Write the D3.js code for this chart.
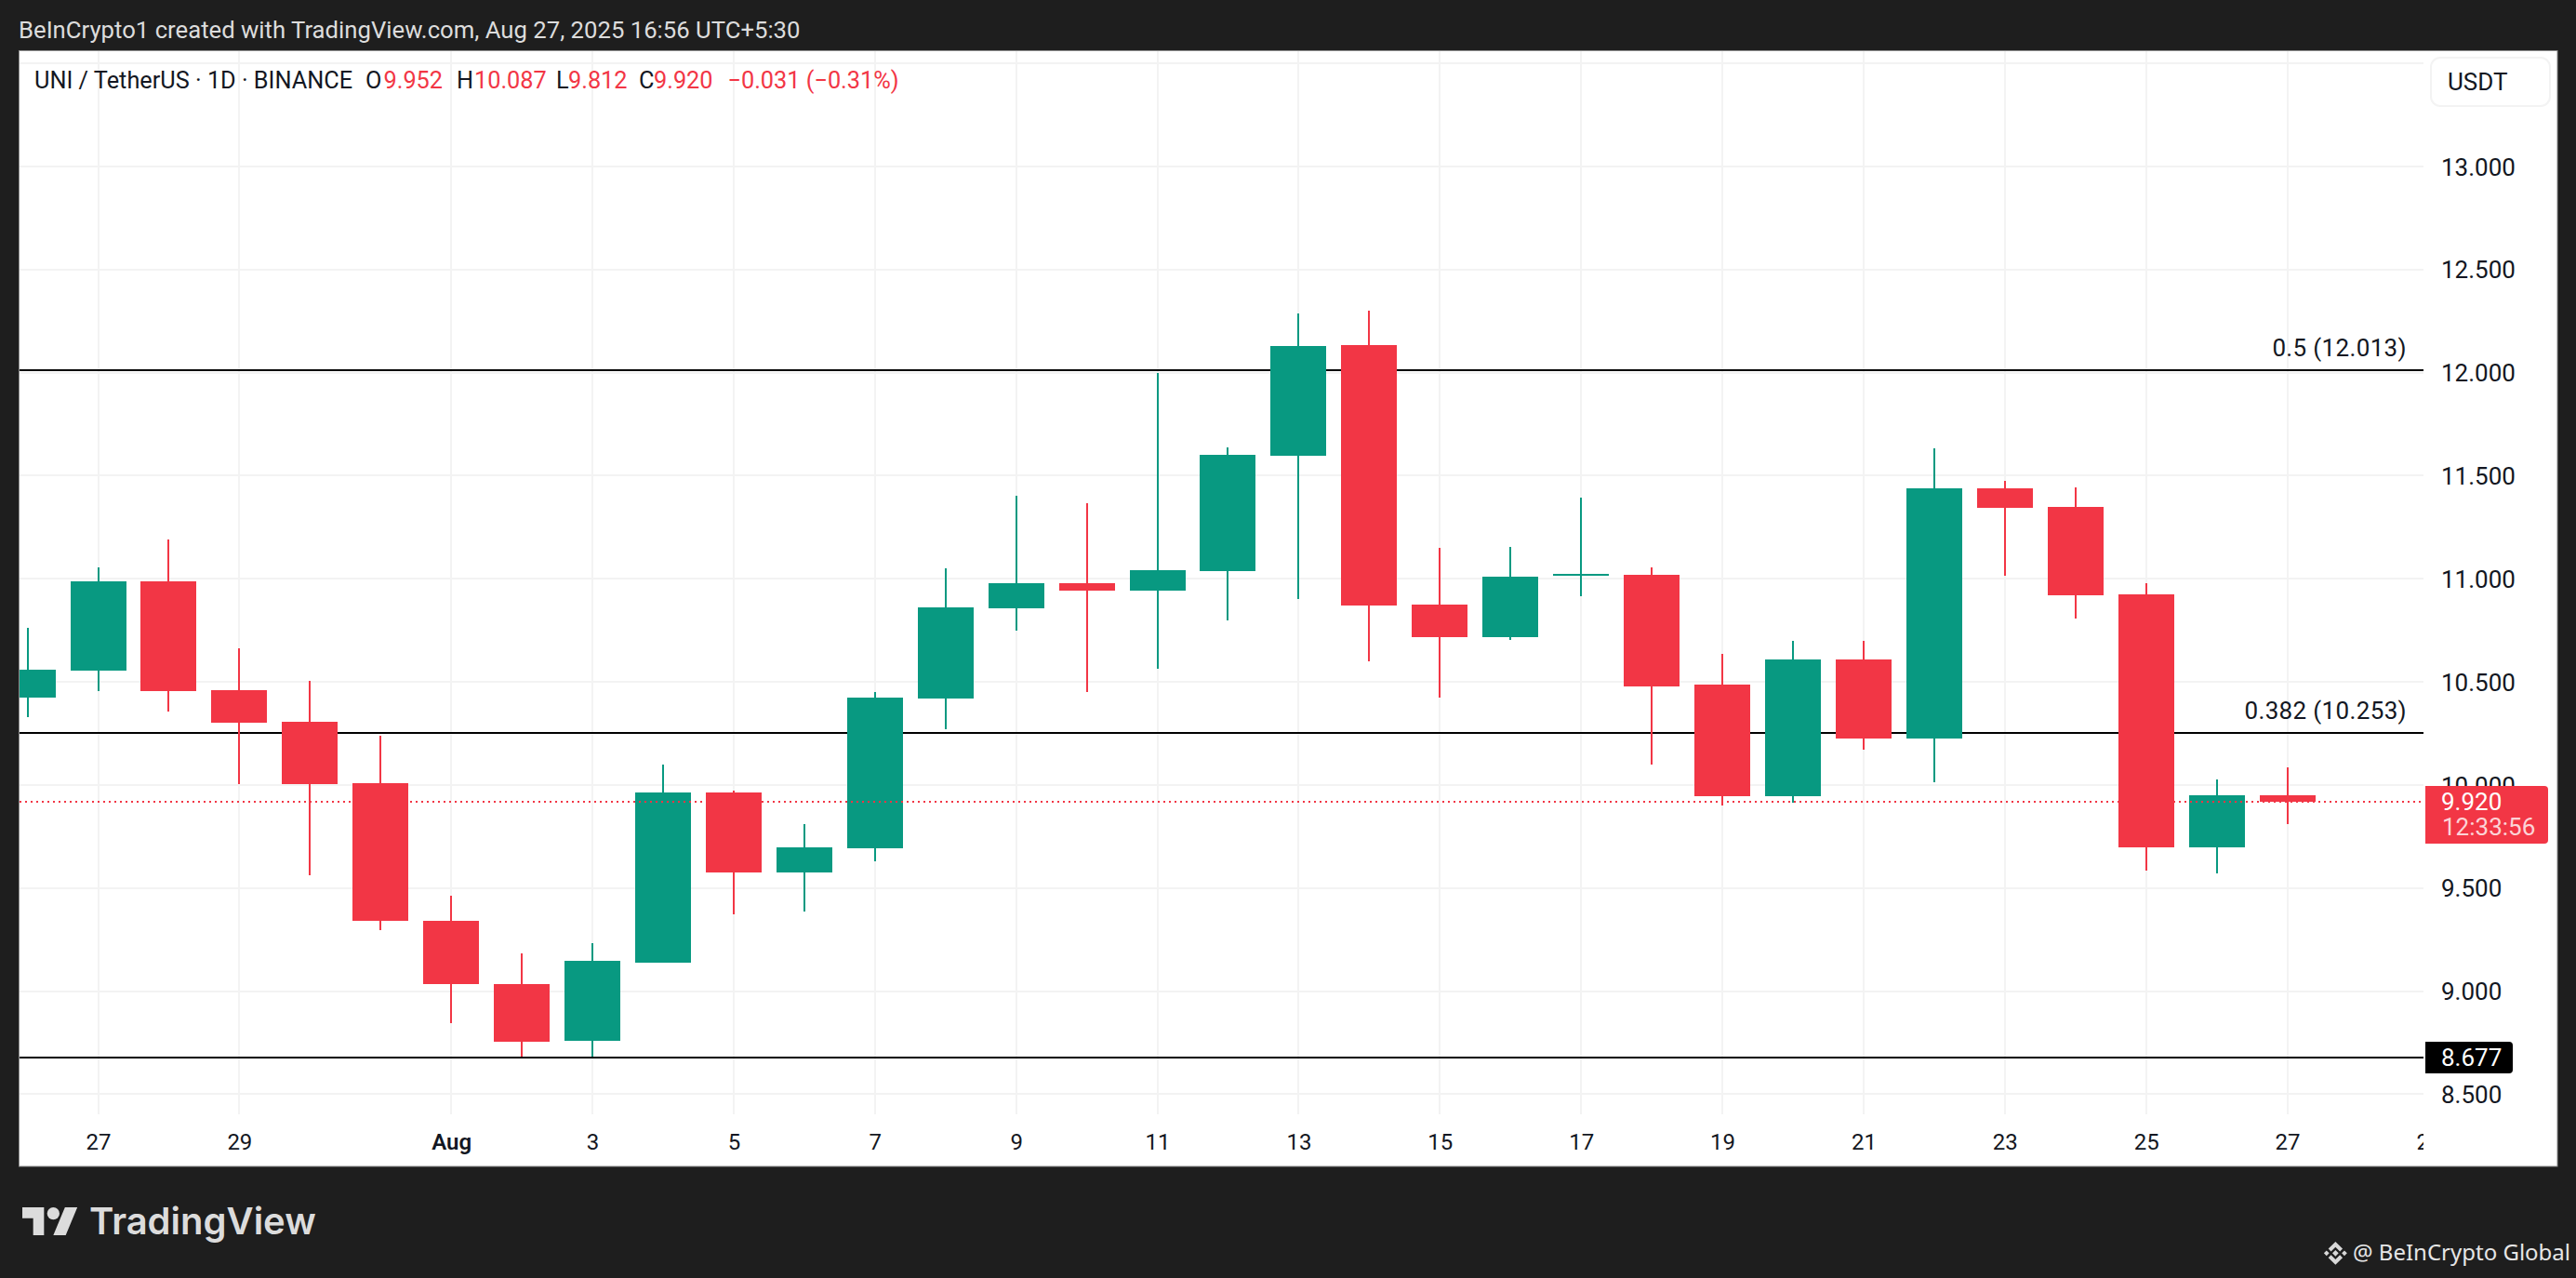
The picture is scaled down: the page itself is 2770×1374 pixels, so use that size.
<!DOCTYPE html>
<html><head><meta charset="utf-8">
<script src="https://cdn.jsdelivr.net/npm/d3@7"></script>
<style>html,body{margin:0;padding:0;background:#1e1e1e;overflow:hidden}svg{display:block;font-family:Roboto,sans-serif}</style>
</head><body><svg id="c" width="2770" height="1374"></svg>
<script>
const dates=["2025-07-26","2025-07-27","2025-07-28","2025-07-29","2025-07-30","2025-07-31","2025-08-01","2025-08-02","2025-08-03","2025-08-04","2025-08-05","2025-08-06","2025-08-07","2025-08-08","2025-08-09","2025-08-10","2025-08-11","2025-08-12","2025-08-13","2025-08-14","2025-08-15","2025-08-16","2025-08-17","2025-08-18","2025-08-19","2025-08-20","2025-08-21","2025-08-22","2025-08-23","2025-08-24","2025-08-25","2025-08-26","2025-08-27"];
const opens=[10.422,10.553,10.987,10.458,10.306,10.007,9.339,9.036,8.757,9.140,9.962,9.574,9.692,10.418,10.856,10.978,10.942,11.037,11.596,12.133,10.874,10.716,11.014,11.018,10.486,9.944,10.608,10.224,11.438,11.348,10.924,9.696,9.952];
const highs=[10.760,11.054,11.190,10.662,10.505,10.237,9.465,9.182,9.232,10.097,9.971,9.809,10.450,11.050,11.402,11.366,11.998,11.637,12.287,12.300,11.149,11.154,11.393,11.055,10.635,10.698,10.698,11.632,11.474,11.443,10.978,10.025,10.087];
const lows=[10.328,10.455,10.354,10.002,9.560,9.294,8.843,8.684,8.681,9.137,9.372,9.384,9.628,10.269,10.748,10.450,10.563,10.797,10.901,10.599,10.423,10.703,10.915,10.098,9.899,9.914,10.170,10.012,11.014,10.806,9.583,9.570,9.812];
const closes=[10.558,10.987,10.455,10.301,10.002,9.339,9.033,8.753,9.145,9.962,9.574,9.696,10.423,10.861,10.978,10.942,11.041,11.601,12.129,10.870,10.716,11.010,11.023,10.477,9.944,10.608,10.224,11.438,11.343,10.919,9.696,9.949,9.920];
const priceTicks=[8.5,9,9.5,10,10.5,11,11.5,12,12.5,13,13.5];
const dateTicks=["2025-07-27","2025-07-29","2025-08-01","2025-08-03","2025-08-05","2025-08-07","2025-08-09","2025-08-11","2025-08-13","2025-08-15","2025-08-17","2025-08-19","2025-08-21","2025-08-23","2025-08-25","2025-08-27","2025-08-29"];
const fibValues=[12.013,10.253,8.677];
const fibLabels=["0.5 (12.013)","0.382 (10.253)",""];
const lastPrice=9.920;

const parse=d3.utcParse("%Y-%m-%d");
const GREEN="#089981",RED="#f23645",GRID="#f3f3f3",INK="#131722";
const L=20.5,R=2606,T=54.5,B=1198;
const x=d3.scaleUtc().domain([parse("2025-07-27"),parse("2025-08-27")]).range([105.5,2459.5]);
const y=d3.scaleLinear().domain([8.5,13]).range([1176.4,179]);
const svg=d3.select("#c");
svg.append("rect").attr("width",2770).attr("height",1374).attr("fill","#1e1e1e");
svg.append("rect").attr("x",L).attr("y",T).attr("width",2750-L).attr("height",1254-T).attr("fill","#fff").attr("stroke","#8c8c8c").attr("stroke-width",1);
const defs=svg.append("defs");
defs.append("clipPath").attr("id","plot").append("rect").attr("x",21).attr("y",55).attr("width",R-21).attr("height",B-55);
defs.append("clipPath").attr("id","xclip").append("rect").attr("x",21).attr("y",B).attr("width",R-21).attr("height",55);
const plot=svg.append("g").attr("clip-path","url(#plot)");
const crisp=s=>s.attr("shape-rendering","crispEdges");

// grid
crisp(plot.append("g").selectAll("line").data(dateTicks).join("line")
  .attr("x1",d=>x(parse(d))).attr("x2",d=>x(parse(d))).attr("y1",T).attr("y2",B)
  .attr("stroke",GRID).attr("stroke-width",2));
crisp(plot.append("g").selectAll("line").data(priceTicks).join("line")
  .attr("x1",L).attr("x2",R).attr("y1",d=>y(d)).attr("y2",d=>y(d))
  .attr("stroke",GRID).attr("stroke-width",2));

// fibonacci levels
crisp(plot.append("g").selectAll("line").data(fibValues).join("line")
  .attr("x1",L).attr("x2",R).attr("y1",d=>y(d)).attr("y2",d=>y(d))
  .attr("stroke","#000").attr("stroke-width",2));

// candles
const bars=dates.map((d,i)=>({t:parse(d),o:opens[i],h:highs[i],l:lows[i],c:closes[i]}));
const col=d=>d.c>=d.o?GREEN:RED;
const bw=60;
crisp(plot.append("g").selectAll("line").data(bars).join("line")
  .attr("x1",d=>x(d.t)).attr("x2",d=>x(d.t)).attr("y1",d=>y(d.h)).attr("y2",d=>y(d.l))
  .attr("stroke",col).attr("stroke-width",2));
crisp(plot.append("g").selectAll("rect").data(bars).join("rect")
  .attr("x",d=>x(d.t)-bw/2).attr("width",bw)
  .attr("y",d=>y(Math.max(d.o,d.c))).attr("height",d=>Math.abs(y(d.o)-y(d.c)))
  .attr("fill",col));

// last price line
crisp(plot.append("line").attr("x1",L).attr("x2",R-3).attr("y1",y(lastPrice)).attr("y2",y(lastPrice))
  .attr("stroke",RED).attr("stroke-width",2).attr("stroke-dasharray","2 4"));

// fib labels
svg.append("g").selectAll("text").data(fibValues.filter((d,i)=>fibLabels[i])).join("text")
  .attr("x",2588).attr("y",d=>y(d)-24).attr("dy","0.35em").attr("text-anchor","end")
  .attr("font-size",26).attr("letter-spacing",0.35).attr("fill",INK).text((d,i)=>fibLabels[i]);

// axes
const yAxis=d3.axisRight(y).tickValues(priceTicks.filter(d=>d<=13)).tickSize(0).tickPadding(19).tickFormat(d3.format(".3f"));
const ga=svg.append("g").attr("transform",`translate(${R},0)`).call(yAxis);
ga.select(".domain").remove();
ga.selectAll("text").attr("font-size",26).attr("fill",INK).style("font-family","Roboto,sans-serif").attr("dy","0.35em");
const xAxis=d3.axisBottom(x).tickValues(dateTicks.map(parse)).tickSize(0).tickPadding(0)
  .tickFormat(d=>d.getUTCDate()===1?"Aug":String(d.getUTCDate()));
const gx=svg.append("g").attr("clip-path","url(#xclip)").append("g").attr("transform","translate(0,1228)").call(xAxis);
gx.select(".domain").remove();
gx.selectAll("text").attr("y",0).attr("dy","0.35em").attr("font-size",24).attr("fill",INK).style("font-family","Roboto,sans-serif")
  .attr("font-weight",d=>d.getUTCDate()===1?600:400);

// USDT button
svg.append("rect").attr("x",2614).attr("y",62).attr("width",128).attr("height",52).attr("rx",10).attr("fill","#fff").attr("stroke",GRID).attr("stroke-width",2);
svg.append("text").attr("x",2632).attr("y",88).attr("dy","0.35em").attr("font-size",26).attr("fill",INK).text("USDT");

// price tags
const tag=(x0,y0,w,h,fill)=>svg.append("path").attr("fill",fill)
  .attr("d",`M${x0} ${y0}H${x0+w-4}a4 4 0 0 1 4 4V${y0+h-4}a4 4 0 0 1 -4 4H${x0}Z`);
tag(2608,845,132,62,RED);
svg.append("text").attr("x",2625).attr("y",861.5).attr("dy","0.35em").attr("font-size",26).attr("fill","#fff").text(d3.format(".3f")(lastPrice));
svg.append("text").attr("x",2626).attr("y",889).attr("dy","0.35em").attr("font-size",26).attr("fill","#fff").attr("fill-opacity",0.8).text("12:33:56");
tag(2608,1120,94,34,"#000");
svg.append("text").attr("x",2625).attr("y",1137).attr("dy","0.35em").attr("font-size",26).attr("fill","#fff").text(d3.format(".3f")(fibValues[2]));

// header
svg.append("text").attr("x",20).attr("y",32).attr("dy","0.35em").attr("font-size",25.7).attr("fill","#dcdcdc")
  .text("BeInCrypto1 created with TradingView.com, Aug 27, 2025 16:56 UTC+5:30");
const legend=[["UNI / TetherUS · 1D · BINANCE",37,INK],["O",393,INK],["9.952",412.5,RED],["H",491,INK],["10.087",510,RED],["L",598,INK],["9.812",611,RED],["C",687,INK],["9.920",703,RED],["−0.031 (−0.31%)",782.5,RED]];
svg.append("g").selectAll("text").data(legend).join("text")
  .attr("x",d=>d[1]).attr("y",86).attr("dy","0.35em").attr("font-size",25.3).attr("fill",d=>d[2]).text(d=>d[0]);

// TradingView logo
const logo=svg.append("g").attr("fill","#dcdcdc").attr("transform","translate(24,1291.3) scale(1.667)");
logo.append("path").attr("d","M14 22H7V11H0V4h14v18zM28 22h-8l7.5-18h8L28 22z");
logo.append("circle").attr("cx",20).attr("cy",8).attr("r",4);
svg.append("text").attr("x",96).attr("y",1313).attr("dy","0.35em").style("font-family","Inter,sans-serif").attr("font-weight",600).attr("font-size",40).attr("fill","#dcdcdc").text("TradingView");

// BeInCrypto mark
svg.append("path").attr("fill","#d8d8d8").attr("transform","translate(2496,1332) scale(0.96)")
  .attr("d","M16 3L24 11L21 14L16 9L11 14L8 11ZM16 29L24 21L21 18L16 23L11 18L8 21ZM16 12.5L19.5 16L16 19.5L12.5 16ZM6 13L9 16L6 19L3 16ZM26 13L29 16L26 19L23 16Z");
svg.append("text").attr("x",2530).attr("y",1347).attr("dy","0.35em").style("font-family","'Noto Sans',sans-serif").attr("font-size",24).attr("fill","#e6e6e6").text("@ BeInCrypto Global");
</script></body></html>
